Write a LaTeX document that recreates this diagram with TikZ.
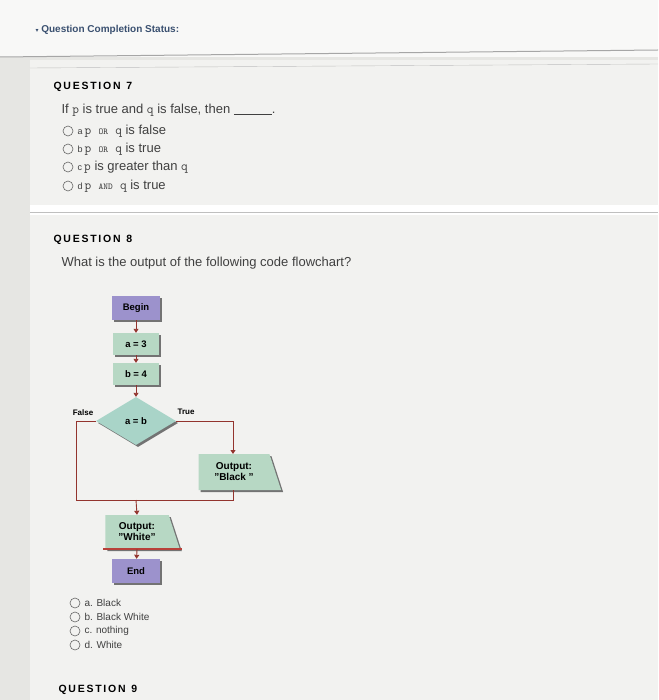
\documentclass[tikz,border=0pt]{standalone}
\usepackage{fontspec}
\setmainfont{Liberation Sans}
\newfontfamily\djv{DejaVu Sans}
\newfontfamily\lmm{Latin Modern Mono}
\usetikzlibrary{shapes.geometric,arrows.meta}
\definecolor{bg}{HTML}{E6E6E3}
\definecolor{panel}{HTML}{F2F2F0}
\definecolor{stat}{HTML}{3A5070}
\definecolor{beg}{HTML}{9C92CC}
\definecolor{grn}{HTML}{B7D8C4}
\definecolor{dia}{HTML}{A9D4C8}
\definecolor{arr}{HTML}{B8413A}
\begin{document}
\begin{tikzpicture}[x=1pt,y=-1pt,
  qh/.style={font=\bfseries\fontsize{10.5}{12}\selectfont,anchor=west},
  txt/.style={font=\fontsize{13}{15}\selectfont,anchor=west,text=black!75},
  opt/.style={font=\fontsize{10}{12}\selectfont,anchor=west,text=black!75},
  rad/.style={draw=black!60,line width=0.6pt,circle,minimum size=10pt,inner sep=0pt},
  drop/.style={preaction={fill=black!55,transform canvas={shift={(2pt,-2pt)}}}},
  pbox/.style={draw=none,fill=beg,minimum width=48pt,minimum height=24pt,font=\bfseries\fontsize{9.5}{11}\selectfont,drop},
  gbox/.style={fill=grn,minimum width=46pt,minimum height=22pt,font=\bfseries\fontsize{9.5}{11}\selectfont,drop},
  par/.style={trapezium,trapezium left angle=90,trapezium right angle=72,fill=grn,font=\bfseries\fontsize{10}{11}\selectfont,align=center,inner sep=2pt,drop},
  ln/.style={draw=arr!80!black,line width=0.9pt},
  ar/.style={ln,-{Triangle[length=4pt,width=5pt]}},
  lab/.style={font=\bfseries\fontsize{8}{9}\selectfont}]
\useasboundingbox (0,0) rectangle (658,700);
\fill[bg] (0,0) rectangle (658,700);
\fill[panel] (30,60) rectangle (658,700);
\fill[white!70!bg] (0,0) rectangle (658,57);
\draw[black!35,line width=1pt] (0,57) -- (658,50);
\node[font=\bfseries\fontsize{10}{11}\selectfont,text=stat,anchor=west] (st) at (32,30) {{\djv\fontsize{6}{7}\selectfont ▾} Question Completion Status:};
\draw[black!25] (30,68) -- (658,64);
\node[qh] (q7) at (50,87) {Q\,U\,E\,S\,T\,I\,O\,N\ \ 7};
\node[txt] (t7) at (58,110) {If {\lmm p} is true and {\lmm q} is false, then \rule[-1pt]{38pt}{0.5pt}.};
\foreach \y/\t [count=\i] in {131/{{\small a}\,{\lmm p} \ {\lmm\small OR} \ {\lmm q} is false},149/{{\small b}\,{\lmm p} \ {\lmm\small OR} \ {\lmm q} is true},167/{{\small c}\,{\lmm p} is greater than {\lmm q}},186/{{\small d}\,{\lmm p} \ {\lmm\small AND} \ {\lmm q} is true}}{
  \node[rad] (r\i) at (68,\y) {};
  \node[txt] (o\i) at (74,\y) {\t};
}
\fill[white] (30,205) rectangle (658,215);
\draw[black!25] (30,212) -- (658,212);
\node[qh] (q8) at (50,240) {Q\,U\,E\,S\,T\,I\,O\,N\ \ 8};
\node[txt] (t8) at (58,263) {What is the output of the following code flowchart?};
% flowchart
\node[pbox] (begin) at (136,308) {Begin};
\node[gbox] (a3) at (136,344) {a = 3};
\node[gbox] (b4) at (136,374) {b = 4};
\node[diamond,fill=dia,minimum width=80pt,minimum height=48pt,inner sep=0pt,aspect=1.7,font=\bfseries\fontsize{9.5}{11}\selectfont,drop] (d) at (136,421) {a = b};
\node[par,minimum width=70pt,minimum height=36pt] (black) at (234,472) {Output:\\"Black "};
\node[par,minimum width=66pt,minimum height=34pt] (white) at (137,532) {Output:\\"White"};
\draw[arr,line width=2pt] ([xshift=-2pt]white.bottom left corner) -- ([xshift=2pt]white.bottom right corner);
\node[pbox] (end) at (136,571) {End};
\draw[ar] (begin) -- (a3);
\draw[ar] (a3) -- (b4);
\draw[ar] (b4) -- (d);
\coordinate (m) at (136,500);
\draw[ln] (d.west) -- (76,421) -- (76,500) -- (233,500) -- (233,490);
\draw[ar] (d.east) -- (233,421) -- (233,454);
\draw[ar] (m) -- (white.north);
\draw[ar] (white.south) -- (end);
\node[lab] (fl) at (83,413) {False};
\node[lab] (tl) at (186,412) {True};
\foreach \y/\t [count=\i] in {603/a. Black,617/b. Black White,631/c. nothing,645/d. White}{
  \node[rad] (s\i) at (75,\y) {};
  \node[opt] (p\i) at (81,\y) {\t};
}
\node[qh] (q9) at (55,690) {Q\,U\,E\,S\,T\,I\,O\,N\ \ 9};
\end{tikzpicture}
\end{document}
